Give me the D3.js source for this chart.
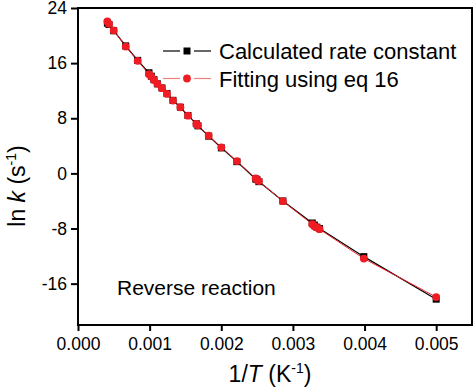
<!DOCTYPE html>
<html>
<head>
<meta charset="utf-8">
<script src="https://cdn.jsdelivr.net/npm/d3@7"></script>
<style>
  body { margin: 0; background: #fff; }
  svg text { font-family: "Liberation Sans", Arial, sans-serif; fill: #000; }
</style>
</head>
<body>
<div id="chart"></div>
<script>
// 1/T values (K^-1)
const invT = [0.000410, 0.000433, 0.000498, 0.000666, 0.000833, 0.000991, 0.001024, 0.001060,
  0.001108, 0.001172, 0.001242, 0.001326, 0.001429, 0.001535, 0.001652, 0.001674, 0.001824,
  0.002001, 0.002218, 0.002480, 0.002497, 0.002525, 0.002860, 0.003270, 0.003300, 0.003335,
  0.003372, 0.003990, 0.005000];
// ln k, calculated (black squares)
const lnkCalc = [21.8, 21.6, 20.7, 18.5, 16.4, 14.6, 14.1, 13.6, 13.0, 12.4, 11.6, 10.6, 9.6,
  8.4, 7.2, 6.9, 5.4, 3.7, 1.7, -0.8, -0.9, -1.2, -4.0, -7.2, -7.5, -7.8, -8.0, -12.08, -18.25];
// ln k, fitting using eq 16 (red circles)
const lnkFit = [22.05, 21.7, 20.74, 18.4, 16.33, 14.4, 14.05, 13.57, 12.99, 12.36, 11.53, 10.56,
  9.6, 8.38, 7.17, 6.98, 5.47, 3.78, 1.79, -0.73, -0.87, -1.12, -4.03, -7.37, -7.67, -7.85,
  -8.1, -12.36, -17.95];
const xTicks = [0, 0.001, 0.002, 0.003, 0.004, 0.005];
const yTicks = [-16, -8, 0, 8, 16, 24];
const legendLabels = ['Calculated rate constant', 'Fitting using eq 16'];

const width = 474, height = 392;
const red = '#f01c24';

const svg = d3.select('#chart').append('svg')
  .attr('width', width)
  .attr('height', height);

const x = d3.scaleLinear().domain([0, 0.0055]).range([78, 472]);
const y = d3.scaleLinear().domain([-22, 24]).range([325, 8]);

const calc = invT.map((t, i) => [t, lnkCalc[i]]);
const fit = invT.map((t, i) => [t, lnkFit[i]]);

// frame
svg.append('rect')
  .attr('x', x(0)).attr('y', y(24))
  .attr('width', x(0.0055) - x(0)).attr('height', y(-22) - y(24))
  .attr('fill', 'none').attr('stroke', '#000').attr('stroke-width', 2);

// axes
const xAxis = svg.append('g')
  .attr('transform', `translate(0,${y(-22)})`)
  .call(d3.axisBottom(x).tickValues(xTicks).tickFormat(d => d.toFixed(3)).tickSize(6).tickPadding(6));
const yAxis = svg.append('g')
  .attr('transform', `translate(${x(0)},0)`)
  .call(d3.axisLeft(y).tickValues(yTicks).tickFormat(d => String(d)).tickSize(7).tickPadding(4));

[xAxis, yAxis].forEach(g => {
  g.select('.domain').remove();
  g.selectAll('.tick line').attr('stroke', '#000').attr('stroke-width', 2);
  g.selectAll('.tick text').style('font-size', '17.5px').attr('fill', '#000');
});
xAxis.selectAll('.tick text').attr('dy', '0.75em');

// lines
const line = d3.line().x(d => x(d[0])).y(d => y(d[1]));
svg.append('path').datum(calc)
  .attr('d', line).attr('fill', 'none').attr('stroke', '#000').attr('stroke-width', 1.2);
svg.append('path').datum(fit)
  .attr('d', line).attr('fill', 'none').attr('stroke', red).attr('stroke-width', 1);

// markers
svg.append('g').selectAll('rect').data(calc).join('rect')
  .attr('x', d => x(d[0]) - 3.5).attr('y', d => y(d[1]) - 3.5)
  .attr('width', 7).attr('height', 7).attr('fill', '#000');
svg.append('g').selectAll('circle').data(fit).join('circle')
  .attr('cx', d => x(d[0])).attr('cy', d => y(d[1])).attr('r', 3.9)
  .attr('fill', red);

// legend
const legend = svg.append('g');
const rows = legend.selectAll('g').data(legendLabels).join('g')
  .attr('transform', (d, i) => `translate(0,${51 + i * 27.5})`);
rows.each(function(d, i) {
  const g = d3.select(this);
  const col = i === 0 ? '#000' : '#f08080';
  g.append('line').attr('x1', 163).attr('x2', 180).attr('stroke', col).attr('stroke-width', 1.2);
  g.append('line').attr('x1', 194).attr('x2', 211).attr('stroke', col).attr('stroke-width', 1.2);
  if (i === 0) {
    g.append('rect').attr('x', 183.5).attr('y', -3.5).attr('width', 7).attr('height', 7).attr('fill', '#000');
  } else {
    g.append('circle').attr('cx', 187).attr('r', 3.9).attr('fill', red);
  }
  g.append('text').attr('x', 219).attr('y', 8).style('font-size', '22px').text(d);
});

// annotation
svg.append('text').attr('x', 117).attr('y', 295).style('font-size', '21px').text('Reverse reaction');

// axis titles
const xt = svg.append('text').attr('x', 270).attr('y', 382)
  .attr('text-anchor', 'middle').style('font-size', '23px');
xt.append('tspan').text('1/');
xt.append('tspan').style('font-style', 'italic').text('T');
xt.append('tspan').text(' (K');
xt.append('tspan').attr('dy', -9).style('font-size', '14px').text('-1');
xt.append('tspan').attr('dy', 9).text(')');

const yt = svg.append('text').attr('transform', 'translate(25,186) rotate(-90)')
  .attr('text-anchor', 'middle').style('font-size', '23px');
yt.append('tspan').text('ln ');
yt.append('tspan').style('font-style', 'italic').text('k');
yt.append('tspan').text('  (s');
yt.append('tspan').attr('dy', -9).style('font-size', '14px').text('-1');
yt.append('tspan').attr('dy', 9).text(')');
</script>
</body>
</html>
